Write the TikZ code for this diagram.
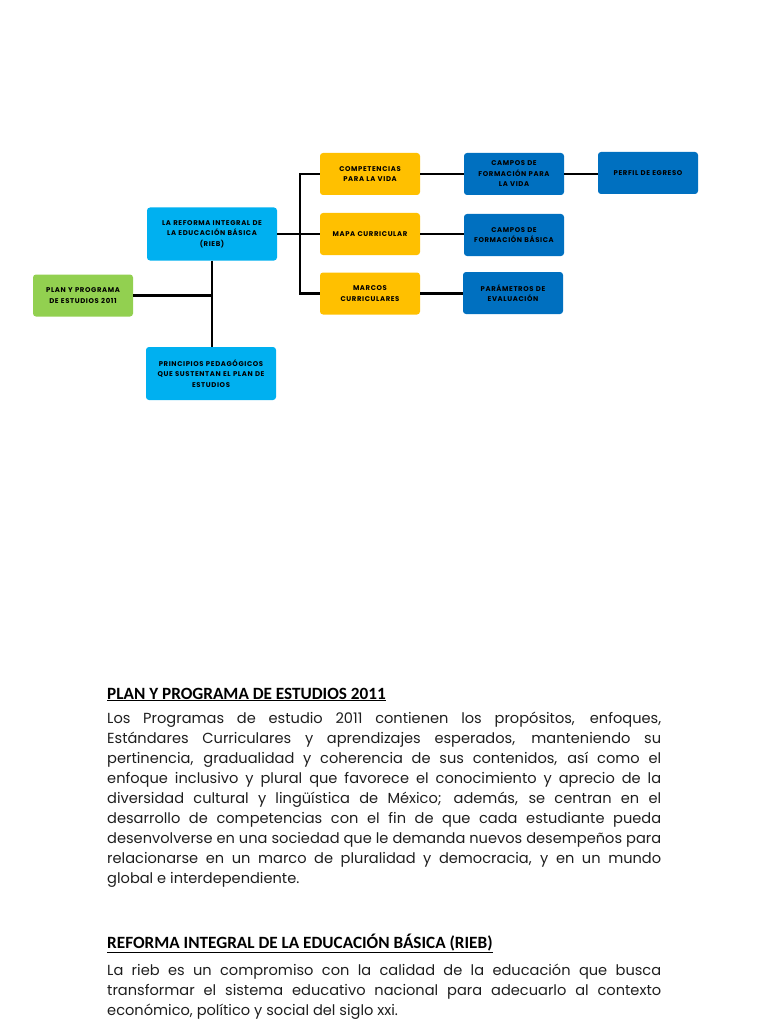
\documentclass[tikz,border=0pt]{standalone}
\usepackage{fontspec}
\setmainfont{Poppins}
\newfontfamily\boxfont[LetterSpace=9]{Poppins}
\newfontfamily\headfont{Carlito}
\usepackage{tikz}
\definecolor{grnbox}{RGB}{146, 208, 80}
\definecolor{cyanbox}{RGB}{0, 176, 240}
\definecolor{yelbox}{RGB}{255, 192, 0}
\definecolor{bluebox}{RGB}{0, 112, 192}
\definecolor{inkgray}{RGB}{30, 30, 30}
\newcommand\bodysetup{\fontsize{14.6}{20}\selectfont\hyphenpenalty=10000\relax}
\tikzset{
  card/.style={rounded corners=3pt, minimum width=100pt, minimum height=42pt,
    text width=96pt, align=center, inner sep=2pt,
    font=\boxfont\bfseries\fontsize{6.9}{10.5}\selectfont},
  bigcard/.style={card, minimum width=130pt, minimum height=53pt, text width=126pt},
  link/.style={line width=2.6pt, line join=miter},
  heading/.style={anchor=base west, inner sep=0pt,
    font=\headfont\bfseries\fontsize{17.2}{19}\selectfont},
  bodytext/.style={anchor=north west, inner sep=0pt, text width=554pt,
    align=justify, text=inkgray, font=\bodysetup}
}

\begin{document}
\begin{tikzpicture}[x=1pt, y=-1pt]
  \useasboundingbox (0,0) rectangle (768,1024);

  % mapa de la reforma
  \node[card, fill=grnbox] (plan) at (83,295.5) {PLAN Y PROGRAMA\\DE ESTUDIOS 2011};
  \node[bigcard, fill=cyanbox] (rieb) at (212,234) {LA REFORMA INTEGRAL DE\\LA EDUCACIÓN BÁSICA\\(RIEB)};
  \node[bigcard, fill=cyanbox] (principios) at (211,373.5) {PRINCIPIOS PEDAGÓGICOS\\QUE SUSTENTAN EL PLAN DE\\ESTUDIOS};

  \node[card, fill=yelbox] (competencias) at (370,174) {COMPETENCIAS\\PARA LA VIDA};
  \node[card, fill=yelbox] (mapa) at (370,234) {MAPA CURRICULAR};
  \node[card, fill=yelbox] (marcos) at (370,293.5) {MARCOS\\CURRICULARES};

  \node[card, fill=bluebox] (camposvida) at (514,174) {CAMPOS DE\\FORMACIÓN PARA\\LA VIDA};
  \node[card, fill=bluebox] (camposbasica) at (514,235) {CAMPOS DE\\FORMACIÓN BÁSICA};
  \node[card, fill=bluebox] (parametros) at (513,293) {PARÁMETROS DE\\EVALUACIÓN};
  \node[card, fill=bluebox] (perfil) at (648,173) {PERFIL DE EGRESO};

  \coordinate (jr) at (300,234);

  \draw[link] (rieb.south) -- (rieb.south |- principios.north);
  \draw[link] (plan.east) -- (plan.east -| rieb.south);
  \draw[link] (rieb.east) -- (jr) -- (mapa.west);
  \draw[link] (competencias.west) -| (jr) |- (marcos.west);
  \draw[link] (competencias.east) -- (camposvida.west);
  \draw[link] (camposvida.east) -- (camposvida.east -| perfil.west);
  \draw[link] (mapa.east) -- (mapa.east -| camposbasica.west);
  \draw[link] (marcos.east) -- (marcos.east -| parametros.west);

  % textos
  \node[heading] (h1) at (107,699) {\underline{PLAN Y PROGRAMA DE ESTUDIOS 2011}};
  \node[bodytext] (t1) at (107,712) {Los Programas de estudio 2011 contienen los propósitos, enfoques,\linebreak
    Estándares Curriculares y aprendizajes esperados, manteniendo su\linebreak
    pertinencia, gradualidad y coherencia de sus contenidos, así como el\linebreak
    enfoque inclusivo y plural que favorece el conocimiento y aprecio de la\linebreak
    diversidad cultural y lingüística de México; además, se centran en el\linebreak
    desarrollo de competencias con el fin de que cada estudiante pueda\linebreak
    desenvolverse en una sociedad que le demanda nuevos desempeños para\linebreak
    relacionarse en un marco de pluralidad y democracia, y en un mundo\linebreak
    global e interdependiente.};

  \node[heading] (h2) at (107,948) {\underline{REFORMA INTEGRAL DE LA EDUCACIÓN BÁSICA (RIEB)}};
  \node[bodytext] (t2) at (107,964) {La rieb es un compromiso con la calidad de la educación que busca\linebreak
    transformar el sistema educativo nacional para adecuarlo al contexto\linebreak
    económico, político y social del siglo xxi.};
\end{tikzpicture}
\end{document}
